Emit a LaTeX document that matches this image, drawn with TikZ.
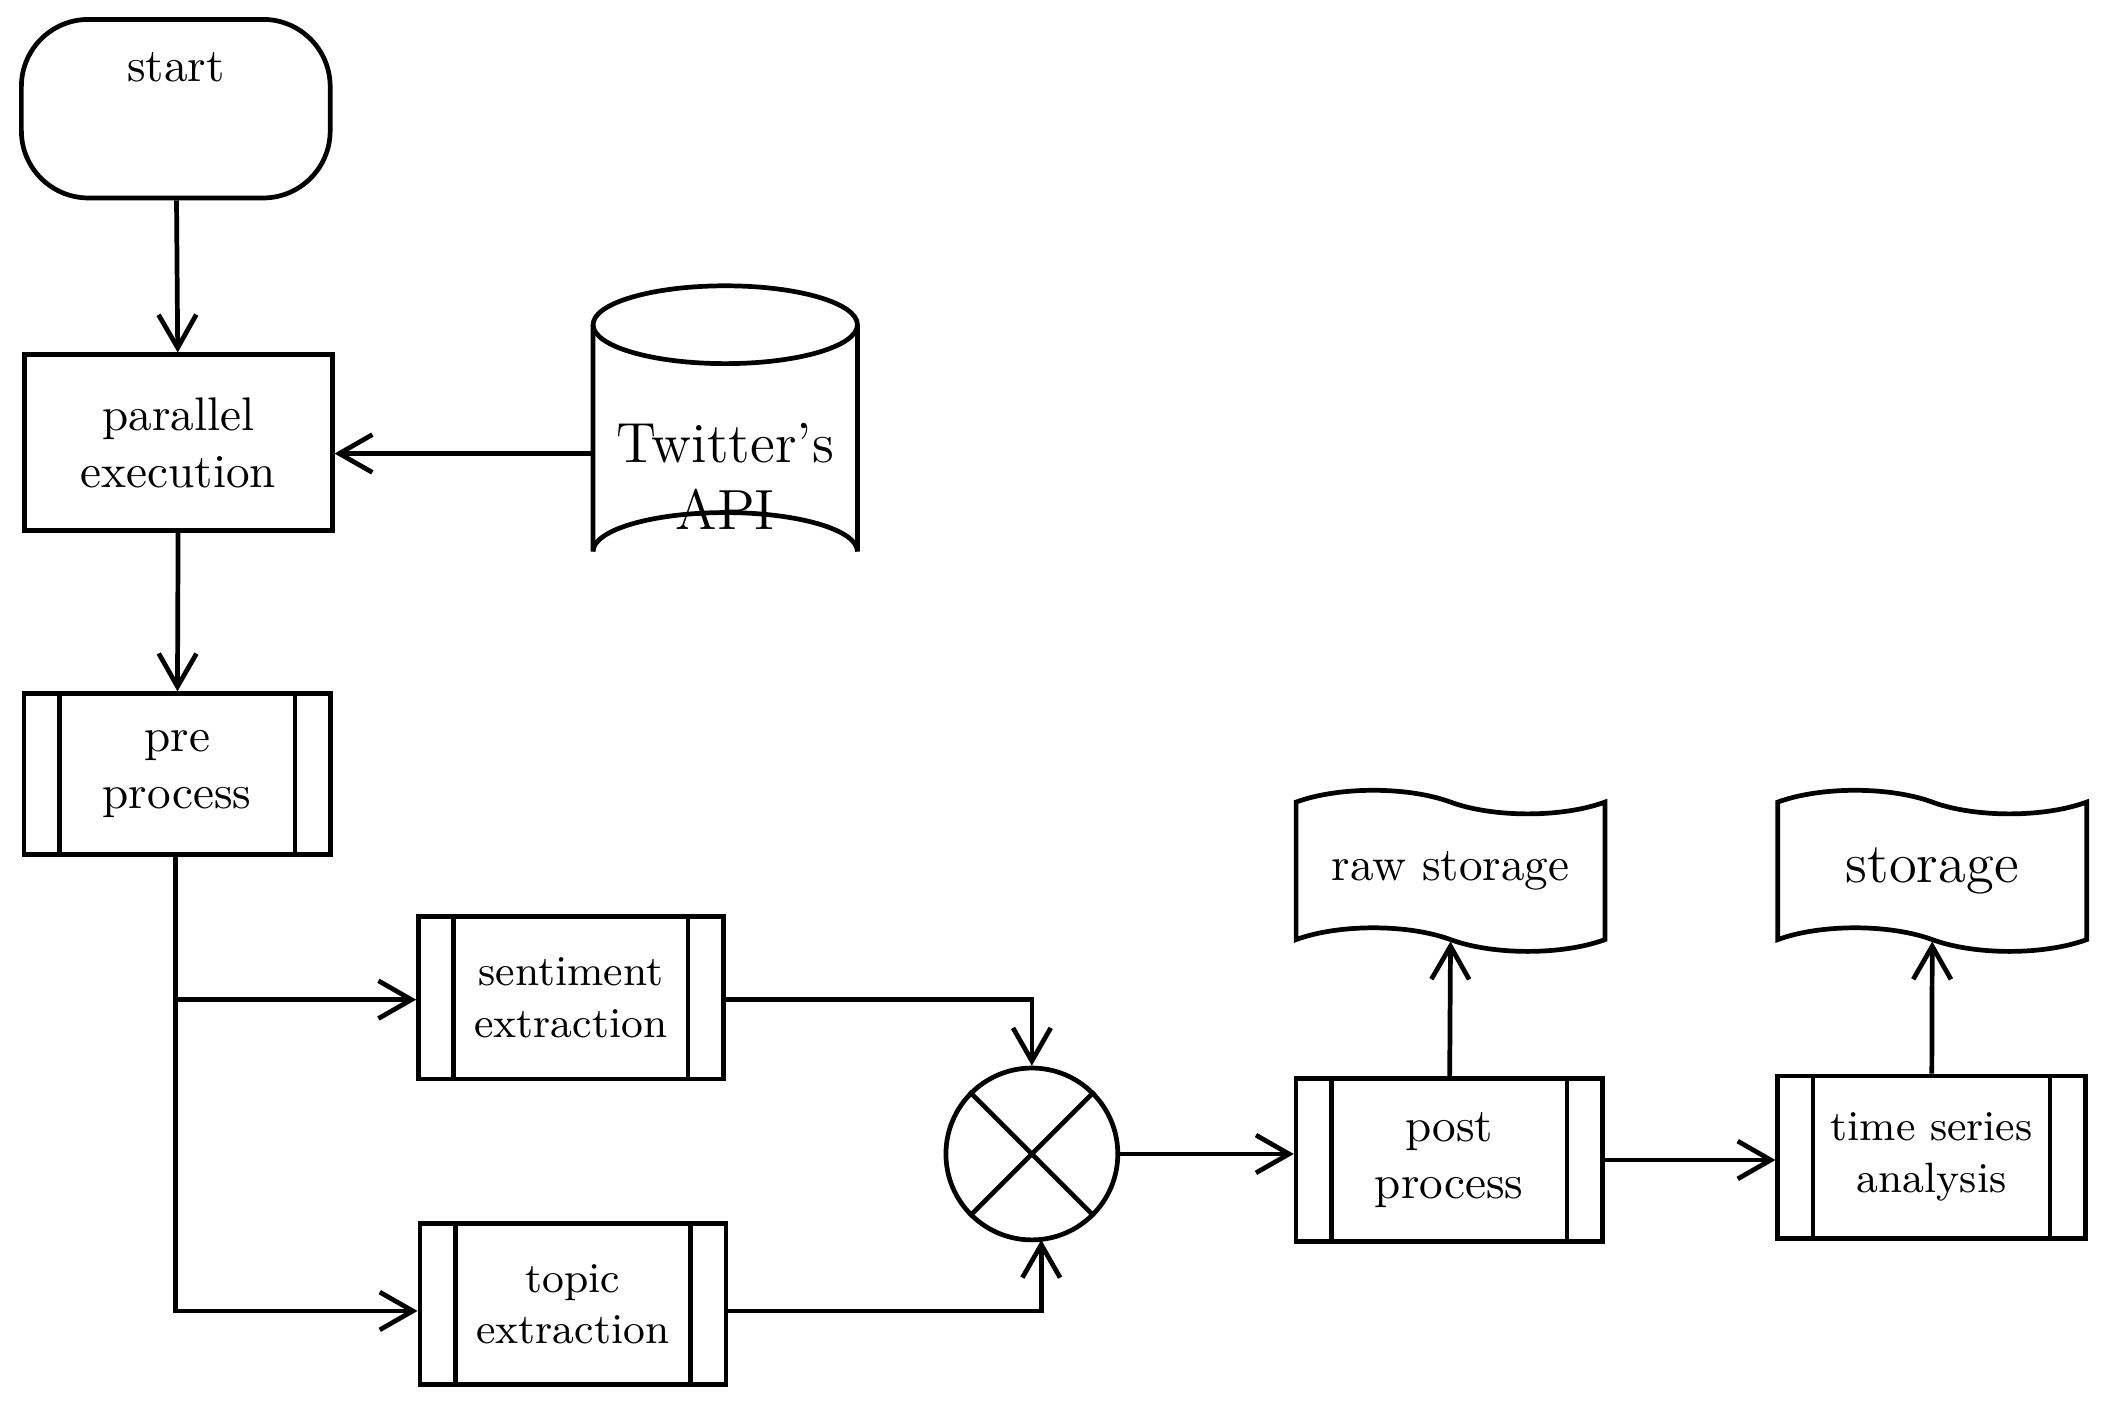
\documentclass[tikz,border=0pt]{standalone}
\usetikzlibrary{shapes.geometric,shapes.symbols,arrows.meta}
\begin{document}
\begin{tikzpicture}[x=0.01cm,y=-0.01cm,line width=1pt,
  box/.style={draw,rectangle,inner sep=0pt,align=center},
  arr/.style={-{Straight Barb[length=7pt,width=8pt]}},
  tp/.style={draw,tape,tape bend top=out and in,tape bend bottom=out and in,minimum width=2.3cm,minimum height=1.2cm,align=center}]
\useasboundingbox (0,0) rectangle (1568,1052);
\node[box,rounded corners=0.5cm,minimum width=2.3cm,minimum height=1.33cm] (start) at (131,81) {start\\[0.2cm]};
\node[box,minimum width=2.29cm,minimum height=1.31cm] (par) at (133,330) {parallel\\execution};
% cylinder
\draw (442,242) -- (442,411) arc[start angle=180,end angle=360,x radius=98.5,y radius=29] -- (639,242);
\draw (540.5,242) ellipse[x radius=98.5,y radius=29];
\node[inner sep=0pt,align=center,font=\large,minimum width=1.97cm,minimum height=1.4cm] (tw) at (540.5,355) {Twitter's\\API};
\coordinate (twl) at (442,338);
\node[box,minimum width=2.28cm,minimum height=1.2cm] (pre) at (132,577) {pre\\process};
\node[box,font=\small,minimum width=2.27cm,minimum height=1.21cm] (sent) at (425.5,743.5) {sentiment\\extraction};
\node[box,font=\small,minimum width=2.28cm,minimum height=1.2cm] (top) at (427,972) {topic\\extraction};
\node[draw,circle,minimum size=1.28cm,inner sep=0pt] (x) at (769,860) {};
\draw (x.north west) -- (x.south east) (x.north east) -- (x.south west);
\node[box,minimum width=2.28cm,minimum height=1.21cm] (post) at (1080,864.5) {post\\process};
\node[box,font=\small,minimum width=2.29cm,minimum height=1.21cm] (ts) at (1439.5,862.5) {time series\\analysis};
\foreach \n in {pre,sent,top,post,ts}{
  \draw ([xshift=0.28cm]\n.north west) -- ([xshift=0.28cm]\n.south west);
  \draw ([xshift=-0.28cm]\n.north east) -- ([xshift=-0.28cm]\n.south east);}
\node[tp] (raw) at (1081,649) {raw storage};
\node[tp,font=\large] (st) at (1440,649) {storage};
% connectors
\draw[arr] (start) -- (par);
\draw[arr] (twl) -- (par.east |- twl);
\draw[arr] (par) -- (pre);
\coordinate (b1) at (131,745);
\coordinate (b2) at (131,977);
\draw[arr] (pre.south -| b1) -- (b2) -- (top.west |- b2);
\draw[arr] (b1) -- (sent.west |- b1);
\draw[arr] (sent.east |- b1) -| (x.north);
\coordinate (c2) at (776,977);
\draw[arr] (top.east |- c2) -- (c2) -- (776,924);
\draw[arr] (x.east) -- (post.west |- x.east);
\draw[arr] (post) -- (raw.south);
\draw[arr] (post.east) -- (ts.west |- post.east);
\draw[arr] (ts) -- (st.south);
\end{tikzpicture}
\end{document}
